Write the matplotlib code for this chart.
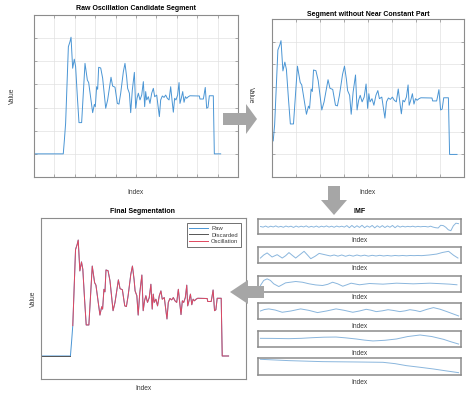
import numpy as np
import matplotlib
matplotlib.use('Agg')
import matplotlib.pyplot as plt
from matplotlib.patches import Polygon

plt.rcParams['font.family'] = ['Liberation Sans', 'DejaVu Sans']

# ---------------- data ----------------
raw_index = [0, 28.7, 29.8, 31.0, 33.7, 35.3, 36.3, 37.9, 39.5, 40.8, 42.5, 44.1, 46.7,
             50.0, 52.3, 53.6, 57.5, 59.2, 60.1, 61.4, 62.4, 63.4, 65.4, 67.3, 70.3,
             72.2, 75.5, 77.1, 79.4, 81.7, 83.3, 85.0, 87.6, 89.2, 90.8, 91.8, 93.5,
             94.8, 96.4, 98.4, 99.7, 101.0, 102.3, 103.9, 105.6, 107.2, 108.5, 109.5,
             110.5, 112.1, 113.7, 115.4, 117.0, 118.3, 120.3, 121.6, 122.9, 124.2,
             125.8, 127.5, 129.1, 130.7, 132.4, 134.0, 135.3, 136.6, 137.9, 139.2,
             140.8, 142.2, 143.1, 144.4, 145.8, 147.1, 148.4, 149.7, 151.3, 152.9,
             162.1, 162.7, 166.0, 166.7, 167.9, 169.3, 170.6, 171.9, 175.8, 176.8, 183.0]
raw_value = [1.0, 1.0, 1.6, 2.32, 5.63, 5.85, 6.04, 4.70, 5.09, 4.77, 3.47, 2.35, 2.35,
             4.91, 4.19, 4.08, 2.78, 3.14, 3.04, 3.90, 3.79, 4.74, 4.71, 4.27, 2.97,
             3.33, 4.31, 3.93, 3.88, 3.18, 3.15, 3.62, 4.55, 4.91, 4.33, 3.83, 3.62,
             2.78, 3.76, 4.52, 2.97, 3.40, 3.62, 3.33, 3.54, 4.12, 3.04, 3.69,
             3.33, 3.47, 3.18, 3.62, 3.83, 3.47, 3.54, 3.07, 2.61, 3.33,
             3.50, 3.44, 3.54, 3.40, 3.33, 3.90, 3.33, 2.80, 3.40, 3.33,
             3.54, 4.08, 3.18, 3.40, 3.69, 3.23, 3.47, 3.40, 3.47, 3.51,
             3.50, 3.37, 3.37, 3.54, 3.87, 2.97, 3.01, 3.51, 3.51, 1.0, 1.0]

trim_start = 29.8      # first sample kept after removing the near-constant part
trim_offset = 28.8     # re-indexing of the trimmed segment
discard_end = 28.7     # last discarded sample
osc_start = 31.0       # first oscillation sample

imf1_index = list(range(2, 160, 2))
imf1_value = [0.50, 0.46, 0.53, 0.45, 0.52, 0.47, 0.54, 0.46, 0.51, 0.45, 0.53, 0.47,
              0.52, 0.44, 0.53, 0.46, 0.52, 0.47, 0.54, 0.45, 0.51, 0.46, 0.53, 0.45,
              0.52, 0.47, 0.54, 0.46, 0.52, 0.45, 0.53, 0.47, 0.52, 0.46,
              0.56, 0.42, 0.57, 0.43, 0.55, 0.44, 0.58, 0.42, 0.54, 0.45, 0.57, 0.41,
              0.55, 0.44, 0.56, 0.43, 0.54, 0.45, 0.57, 0.42, 0.55, 0.46,
              0.52, 0.47, 0.51, 0.48, 0.52, 0.47, 0.51, 0.48, 0.50,
              0.50, 0.47, 0.52, 0.46, 0.42, 0.40, 0.58, 0.56, 0.45, 0.28, 0.22, 0.55,
              0.72, 0.69]

imf2_index = [1.9, 4.5, 7.2, 11.1, 15.1, 19.1, 21.7, 24.4, 27.0, 29.7, 33.0, 36.3, 39.0,
              41.6, 45.0, 48.2, 54.8, 57, 60, 63, 66, 69, 72, 75, 78, 81, 84, 87, 90,
              93, 96, 99, 102, 105, 108, 111, 114, 117, 120, 123, 126, 129, 132, 135,
              140.9, 145.5, 150.2, 154.2, 157.6]
imf2_value = [0.31, 0.50, 0.63, 0.375, 0.52, 0.31, 0.45, 0.65, 0.48, 0.31, 0.52, 0.73,
              0.50, 0.27, 0.42, 0.60, 0.48, 0.44, 0.50, 0.43, 0.50, 0.42, 0.49, 0.43,
              0.50, 0.44, 0.49, 0.43, 0.48, 0.44, 0.48, 0.44, 0.47, 0.44, 0.47, 0.45,
              0.47, 0.45, 0.47, 0.46, 0.47, 0.46, 0.48, 0.50,
              0.56, 0.66, 0.73, 0.48, 0.31]

imf3_index = [1.9, 4.5, 7.2, 9.8, 12.4, 16.4, 19.0, 21.7, 29.7, 35.0, 40.3, 45.5, 50.9,
              55.0, 58.8, 62.8, 66.8, 70.0, 73.4, 80.0, 84.0, 87.9, 93.0, 98.5, 104.0,
              109.1, 116.0, 122.4, 129.0, 135.6, 141.0, 146.2, 151.0, 156.8]
imf3_value = [0.375, 0.69, 0.79, 0.69, 0.48, 0.31, 0.42, 0.54, 0.625, 0.58, 0.48, 0.41,
              0.375, 0.45, 0.58, 0.48, 0.33, 0.42, 0.52, 0.42, 0.46, 0.50, 0.48, 0.46,
              0.49, 0.52, 0.50, 0.48, 0.50, 0.52, 0.50, 0.48, 0.46, 0.42]

imf4_index = [1.9, 5.0, 8.5, 13.5, 19.1, 26.0, 33.6, 40.0, 46.9, 54.0, 61.5, 68.0,
              74.7, 80.0, 85.3, 89.0, 93.2, 98.0, 102.5, 107.0, 111.8, 116.0, 119.7,
              124.0, 127.7, 133.0, 138.3, 143.5, 148.9, 154.0, 158.1]
imf4_value = [0.52, 0.61, 0.65, 0.58, 0.44, 0.52, 0.65, 0.56, 0.42, 0.52, 0.65, 0.56,
              0.44, 0.52, 0.625, 0.57, 0.48, 0.53, 0.60, 0.55, 0.48, 0.53, 0.60,
              0.55, 0.48, 0.62, 0.73, 0.63, 0.48, 0.33, 0.21]

imf5_index = [1.9, 12.0, 24.4, 34.0, 42.9, 52.0, 61.5, 69.0, 77.4, 84.0, 90.6, 100.0,
              109.1, 118.0, 127.7, 137.0, 146.2, 152.0, 158.1]
imf5_value = [0.55, 0.545, 0.53, 0.55, 0.59, 0.62, 0.63, 0.58, 0.51, 0.44, 0.39, 0.43,
              0.51, 0.66, 0.755, 0.66, 0.49, 0.34, 0.20]

imf6_index = [1.9, 24.4, 50.9, 77.4, 98.5, 108.0, 117.0, 128.0, 138.3, 148.0, 158.1]
imf6_value = [0.94, 0.86, 0.80, 0.78, 0.76, 0.68, 0.56, 0.46, 0.36, 0.25, 0.14]

imf_index = [imf1_index, imf2_index, imf3_index, imf4_index, imf5_index, imf6_index]
imf_value = [imf1_value, imf2_value, imf3_value, imf4_value, imf5_value, imf6_value]

legend_labels = ['Raw', 'Discarded', 'Oscillation']
title1 = 'Raw Oscillation Candidate Segment'
title2 = 'Segment without Near Constant Part'
title3 = 'Final Segmentation'

# ---------------- styles ----------------
W, H = 474, 394
BLUE = '#4a95d4'
IMF_BLUE = '#8ab6dd'
RED = '#e0475f'
DARK = '#555555'
FRAME = '#8c8c8c'
LABEL = '#3a3a3a'
ARROW = '#a6a6a6'

fig = plt.figure(figsize=(W / 100, H / 100), dpi=100)
fig.patch.set_facecolor('white')


def px_axes(x0, y0, x1, y1):
    return fig.add_axes([x0 / W, 1 - y1 / H, (x1 - x0) / W, (y1 - y0) / H])


def px_text(x, y, s, **kw):
    fig.text(x / W, 1 - y / H, s, ha='center', va='center', **kw)


def frame(ax, lw=0.8):
    for sp in ax.spines.values():
        sp.set_color(FRAME)
        sp.set_linewidth(lw)


def grid_panel(ax, xmax, xticks):
    ax.set_xlim(0, xmax)
    ax.set_ylim(0, 7)
    ax.set_xticks(xticks)
    ax.set_yticks(range(1, 7))
    ax.grid(True, color='#e1e1e1', linewidth=0.5)
    ax.set_axisbelow(True)
    ax.tick_params(direction='in', length=2, width=0.5, color=FRAME,
                   top=True, right=True, labelbottom=False, labelleft=False)
    frame(ax)


raw_index_a = np.array(raw_index)
raw_value_a = np.array(raw_value)

# Panel 1
ax1 = px_axes(34, 15, 238, 177)
ax1.plot(raw_index_a, raw_value_a, color=BLUE, lw=0.7)
grid_panel(ax1, 200, range(20, 200, 20))
px_text(136, 9, title1, fontsize=5, fontweight='bold')
px_text(136, 193, 'Index', fontsize=4.8, color=LABEL)
px_text(12, 96, 'Value', fontsize=4.8, color=LABEL, rotation=90)

# Panel 2
ax2 = px_axes(272, 19, 464, 177)
keep = raw_index_a >= trim_start
ax2.plot(raw_index_a[keep] - trim_offset, raw_value_a[keep], color=BLUE, lw=0.7)
grid_panel(ax2, 160, range(20, 160, 20))
px_text(368, 14, title2, fontsize=5, fontweight='bold')
px_text(368, 193, 'Index', fontsize=4.8, color=LABEL)
px_text(250, 95, 'Value', fontsize=4.8, color=LABEL, rotation=270)

# Panel 3
ax3 = px_axes(41, 218, 246, 379)
ax3.plot(raw_index_a, raw_value_a, color=BLUE, lw=0.7, label=legend_labels[0])
d = raw_index_a <= discard_end
ax3.plot(raw_index_a[d], raw_value_a[d], color=DARK, lw=0.7, label=legend_labels[1])
o = raw_index_a >= osc_start
ax3.plot(raw_index_a[o], raw_value_a[o], color=RED, lw=0.7, label=legend_labels[2])
ax3.set_xlim(0, 200)
ax3.set_ylim(0, 7)
ax3.set_xticks([])
ax3.set_yticks([])
frame(ax3)
leg = ax3.legend(loc='upper right', fontsize=4.2, frameon=True, fancybox=False,
                 handlelength=3.3, handletextpad=0.5, labelspacing=0.3,
                 borderpad=0.4, borderaxespad=0.9)
leg.get_frame().set_edgecolor('#303030')
leg.get_frame().set_linewidth(0.6)
for t in leg.get_texts():
    t.set_color(LABEL)
px_text(143, 212, title3, fontsize=5, fontweight='bold')
px_text(143, 388, 'Index', fontsize=4.8, color=LABEL)
px_text(33, 299, 'Value', fontsize=4.8, color=LABEL, rotation=90)

# IMF panels
imf_boxes = [(219, 234), (247, 263), (275.5, 291.5), (303.3, 319.3), (331, 347.3), (358.3, 375)]
imf_label_y = [241, 269, 297.5, 326, 353.5, 382]
for k, (top, bot) in enumerate(imf_boxes):
    ax = px_axes(258, top, 461, bot)
    ax.plot(imf_index[k], imf_value[k], color=IMF_BLUE, lw=0.7)
    ax.set_xlim(0, 160)
    ax.set_ylim(0, 1)
    ax.set_xticks([])
    ax.set_yticks([])
    frame(ax, lw=1.1)
    px_text(360, imf_label_y[k], 'Index', fontsize=4.8, color=LABEL)
px_text(360, 212, 'IMF', fontsize=5, fontweight='bold')

# Arrows overlay
ov = fig.add_axes([0, 0, 1, 1], zorder=10)
ov.set_xlim(0, W)
ov.set_ylim(H, 0)
ov.axis('off')
ov.patch.set_alpha(0)
arrows = [
    [(223, 113), (246, 113), (246, 104), (257, 119), (246, 134), (246, 125), (223, 125)],
    [(328, 186), (340, 186), (340, 200), (347, 200), (334, 215), (321, 200), (328, 200)],
    [(264, 286), (248, 286), (248, 280), (230, 292), (248, 304), (248, 298), (264, 298)],
]
for pts in arrows:
    ov.add_patch(Polygon(pts, closed=True, facecolor=ARROW, edgecolor='none'))

fig.savefig('out.png', dpi=100, facecolor='white')
